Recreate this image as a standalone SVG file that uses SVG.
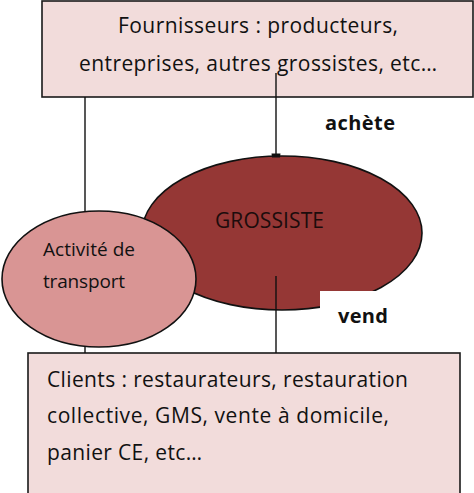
<svg xmlns="http://www.w3.org/2000/svg" width="474" height="493" viewBox="0 0 474 493">
<defs>
<style>
.box{fill:#f2dcdb;stroke:#1a1a1a;stroke-width:1.6}
.t{font-family:"Open Sans","Liberation Sans",sans-serif;font-size:21px;fill:#111}
.b{font-family:"Open Sans","Liberation Sans",sans-serif;font-size:20px;font-weight:bold;fill:#111}
.ln{stroke:#111;stroke-width:1.4;fill:none}
</style>
<marker id="tee" viewBox="-4 -5 5 10" markerWidth="5" markerHeight="10" refX="0" refY="0" orient="auto" markerUnits="userSpaceOnUse">
<path d="M-3.5,-4.5 L0.5,-4 L0.5,4 L-3.5,4.5 z" fill="#111"/>
</marker>
</defs>
<rect width="474" height="493" fill="#fff"/>
<g id="fournisseurs">
<rect class="box" x="42" y="1" width="431" height="96"/>
<text class="t" x="258" y="33" text-anchor="middle" textLength="280">Fournisseurs : producteurs,</text>
<text class="t" x="258" y="71" text-anchor="middle" textLength="358">entreprises, autres grossistes, etc…</text>
</g>
<g id="grossiste">
<ellipse cx="282" cy="233" rx="140" ry="77" fill="#953735" stroke="#111" stroke-width="1.6"/>
<text class="t" x="215" y="228" textLength="109" style="fill:#1c0c0c">GROSSISTE</text>
</g>
<g id="label-vend">
<rect x="320" y="291" width="104" height="46" fill="#fff"/>
<text class="b" x="338" y="323" textLength="50">vend</text>
</g>
<g id="label-achete">
<text class="b" x="325" y="130" textLength="70">achète</text>
</g>
<g id="transport">
<ellipse cx="99" cy="279" rx="97" ry="68" fill="#d99594" stroke="#111" stroke-width="1.6"/>
<text class="t" x="43" y="256" textLength="92" style="font-size:19px">Activité de</text>
<text class="t" x="43" y="288" textLength="82" style="font-size:19px">transport</text>
</g>
<g id="clients">
<rect class="box" x="28" y="353" width="432" height="150"/>
<text class="t" x="47" y="387" textLength="361">Clients : restaurateurs, restauration</text>
<text class="t" x="47" y="423" textLength="342">collective, GMS, vente à domicile,</text>
<text class="t" x="47" y="460" textLength="155">panier CE, etc…</text>
</g>
<g id="connectors">
<line class="ln" x1="276" y1="73" x2="276" y2="157" marker-end="url(#tee)"/>
<line class="ln" x1="276" y1="276" x2="276" y2="353"/>
<line class="ln" x1="85" y1="97" x2="85" y2="211"/>
<line class="ln" x1="85" y1="347" x2="85" y2="353"/>
</g>
</svg>
